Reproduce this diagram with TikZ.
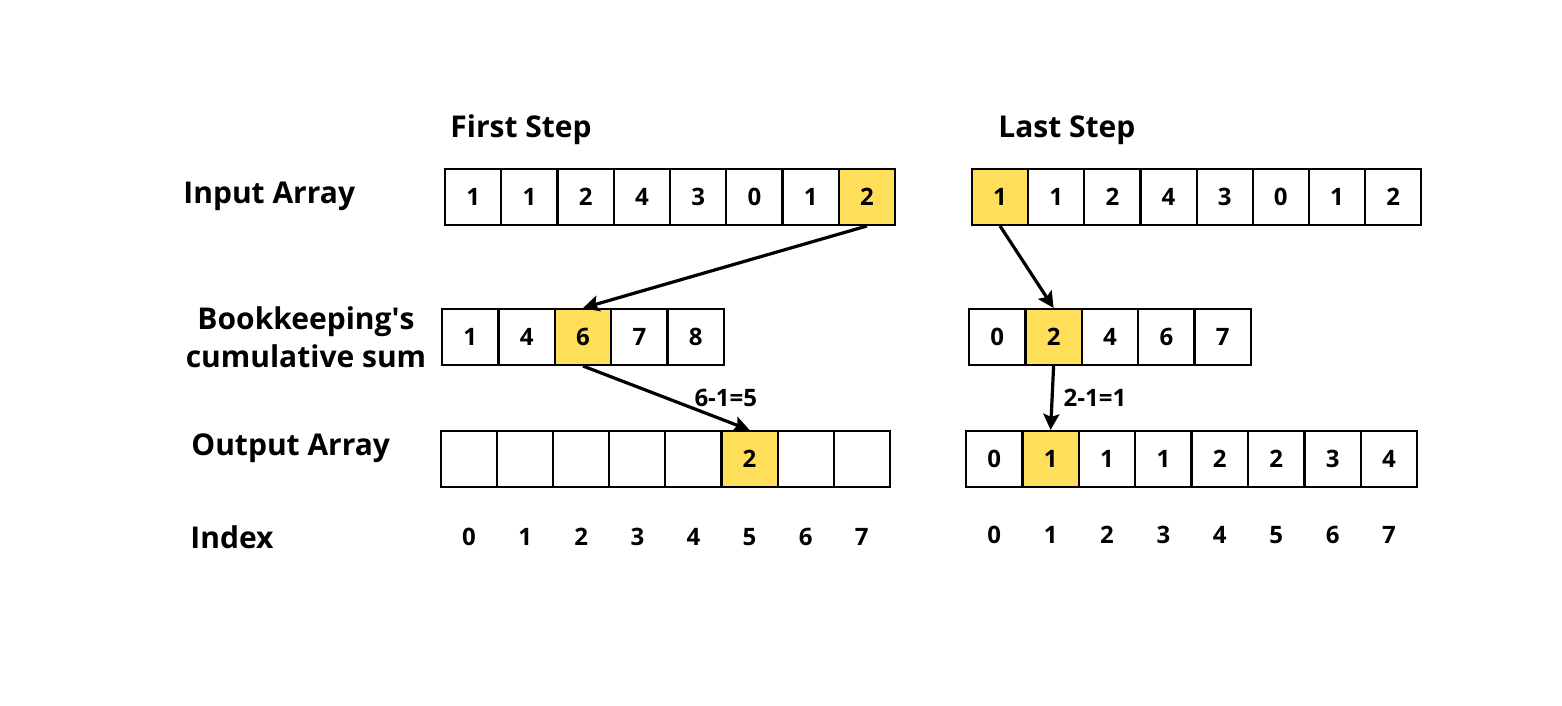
\documentclass[tikz,border=0pt]{standalone}
\usepackage{fontspec}
\setmainfont{Open Sans}
\usepackage{tikz}
\usetikzlibrary{arrows.meta, positioning, calc}
\definecolor{hotyellow}{HTML}{FFDE59}
\tikzset{
    cell/.style={draw=black, line width=1pt, fill=white, minimum size=28pt, inner sep=0pt, font=\fontsize{12}{14}\selectfont\bfseries},
    hot/.style={cell, fill=hotyellow},
    rowlabel/.style={anchor=west, inner sep=0pt, font=\fontsize{15}{19}\selectfont\bfseries},
    idx/.style={inner sep=0pt, font=\fontsize{12}{14}\selectfont\bfseries},
    move/.style={line width=1.6pt, -{Stealth[length=8pt, width=8pt, inset=1.5pt]}},
}

\begin{document}
\begin{tikzpicture}[x=0.5pt, y=-0.5pt]
    \useasboundingbox (0,0) rectangle (1562,706);

    % titles and row labels
    \node[rowlabel] (first) at (450,130) {First Step};
    \node[rowlabel] (last) at (998,130) {Last Step};
    \node[rowlabel] (inlab) at (183,196) {Input Array};
    \node[rowlabel, anchor=center, align=center] (bklab) at (306,337) {Bookkeeping\textquotesingle s\\cumulative sum};
    \node[rowlabel] (outlab) at (191,448) {Output Array};
    \node[rowlabel] (idxlab) at (190,537) {Index};

    % first step
    \foreach \v/\s [count=\i] in {1/cell,1/cell,2/cell,4/cell,3/cell,0/cell,1/cell,2/hot}
      \node[\s] (inL\i) at (445+\i*56.25-28.1,197) {\v};
    \foreach \v/\s [count=\i] in {1/cell,4/cell,6/hot,7/cell,8/cell}
      \node[\s] (bkL\i) at (442+\i*56.4-28.2,337) {\v};
    \foreach \v/\s [count=\i] in {/cell,/cell,/cell,/cell,/cell,2/hot,/cell,/cell} {
      \node[\s] (outL\i) at (441+\i*56.1-28.05,459) {\v};
      \pgfmathtruncatemacro{\k}{\i-1}
      \node[idx] (ixL\i) at ($(outL\i)+(0,78)$) {\k};
    }

    \draw[move] (inL8.south) -- (bkL3.north);
    \draw[move] (bkL3.south) -- node[pos=0.66, above right, inner sep=3pt, idx] (subL) {6-1=5} (outL6.north);

    % last step
    \foreach \v/\s [count=\i] in {1/hot,1/cell,2/cell,4/cell,3/cell,0/cell,1/cell,2/cell}
      \node[\s] (inR\i) at (972+\i*56.15-28.1,197) {\v};
    \foreach \v/\s [count=\i] in {0/cell,2/hot,4/cell,6/cell,7/cell}
      \node[\s] (bkR\i) at (969+\i*56.4-28.2,337) {\v};
    \foreach \v/\s [count=\i] in {0/cell,1/hot,1/cell,1/cell,2/cell,2/cell,3/cell,4/cell} {
      \node[\s] (outR\i) at (966+\i*56.4-28.2,459) {\v};
      \pgfmathtruncatemacro{\k}{\i-1}
      \node[idx] (ixR\i) at ($(outR\i)+(0,76)$) {\k};
    }

    \draw[move] (inR1.south) -- (bkR2.north);
    \draw[move] (bkR2.south) -- node[right, xshift=5pt, idx] (subR) {2-1=1} (outR2.north);
\end{tikzpicture}
\end{document}
